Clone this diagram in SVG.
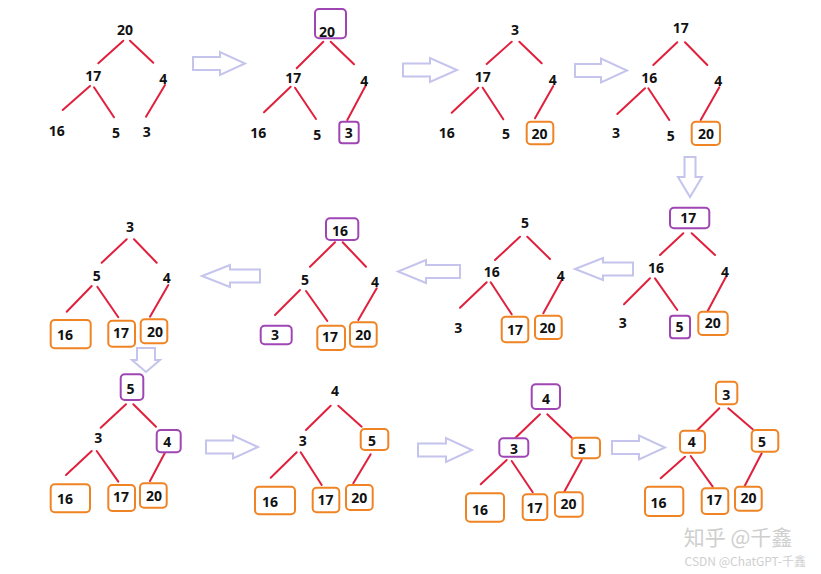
<svg xmlns="http://www.w3.org/2000/svg" width="821" height="574" viewBox="0 0 821 574">
<style>
.e{stroke:#e0203c;stroke-width:2;fill:none;stroke-linecap:round}
.t{font-family:"Open Sans","Noto Sans","DejaVu Sans",sans-serif;font-weight:bold;font-size:14px;fill:#111;text-anchor:middle}
.bp{fill:#fff;stroke:#a046b4;stroke-width:2}
.bo{fill:#fff;stroke:#f08424;stroke-width:2}
.arr{fill:#fff;stroke:#c4c4ec;stroke-width:2;stroke-linejoin:miter}
.wm{font-family:"Noto Sans CJK SC","Liberation Sans",sans-serif;fill:#cfcfcf}
</style>
<rect width="821" height="574" fill="#fff"/>
<g id="connectors">
<line class="e" x1="123.3" y1="40.7" x2="98.3" y2="63.3"/><line class="e" x1="130" y1="40.7" x2="153.3" y2="62.7"/><line class="e" x1="90" y1="86" x2="62.7" y2="110"/><line class="e" x1="94" y1="87.3" x2="114" y2="117.3"/><line class="e" x1="165" y1="85" x2="146" y2="116.7"/>
<line class="e" x1="323.3" y1="41.7" x2="296.7" y2="68.3"/><line class="e" x1="330.7" y1="41.7" x2="354" y2="64.3"/><line class="e" x1="290.7" y1="86.7" x2="264" y2="112.3"/><line class="e" x1="295" y1="87.7" x2="316" y2="119"/><line class="e" x1="366" y1="85" x2="347.3" y2="120"/>
<line class="e" x1="511.7" y1="41.7" x2="486.7" y2="64"/><line class="e" x1="519.3" y1="41.7" x2="541.7" y2="63.3"/><line class="e" x1="478.3" y1="87.7" x2="451.7" y2="112.7"/><line class="e" x1="482.7" y1="87.7" x2="503.3" y2="119.3"/><line class="e" x1="553.3" y1="86" x2="535" y2="118.3"/>
<line class="e" x1="677.3" y1="42.3" x2="653.3" y2="65"/><line class="e" x1="685" y1="42.3" x2="707.3" y2="65"/><line class="e" x1="645" y1="88.3" x2="617.3" y2="114"/><line class="e" x1="648.3" y1="88.3" x2="669.3" y2="120"/><line class="e" x1="719.3" y1="87.3" x2="700.7" y2="120"/>
<line class="e" x1="683.3" y1="233.3" x2="660" y2="255"/><line class="e" x1="691.7" y1="233.3" x2="715" y2="255"/><line class="e" x1="650" y1="278.3" x2="624" y2="304.3"/><line class="e" x1="655" y1="278.3" x2="677.3" y2="310"/><line class="e" x1="726" y1="276.7" x2="707.3" y2="311.7"/>
<line class="e" x1="520" y1="236.7" x2="495" y2="260"/><line class="e" x1="527.3" y1="236.7" x2="550" y2="259"/><line class="e" x1="486.7" y1="282.3" x2="460" y2="307.7"/><line class="e" x1="490.7" y1="282.3" x2="511.7" y2="314.3"/><line class="e" x1="561.7" y1="280" x2="543.3" y2="313.3"/>
<line class="e" x1="335" y1="242.3" x2="310" y2="266.7"/><line class="e" x1="342.7" y1="242.3" x2="366" y2="266.7"/><line class="e" x1="300" y1="290" x2="275" y2="315"/><line class="e" x1="306" y1="291" x2="327.3" y2="321"/><line class="e" x1="376.7" y1="288.3" x2="358.3" y2="320"/>
<line class="e" x1="126.7" y1="239.3" x2="101.7" y2="262.7"/><line class="e" x1="134" y1="239.3" x2="156.7" y2="262.7"/><line class="e" x1="91.7" y1="286" x2="66.7" y2="311.7"/><line class="e" x1="97.3" y1="286.7" x2="118.3" y2="317.3"/><line class="e" x1="168.3" y1="285" x2="150" y2="316.7"/>
<line class="e" x1="126" y1="404.3" x2="100.7" y2="427.7"/><line class="e" x1="133.3" y1="404.3" x2="156" y2="426.7"/><line class="e" x1="91.7" y1="451" x2="66" y2="475"/><line class="e" x1="96.7" y1="451" x2="118.3" y2="481.7"/><line class="e" x1="167.3" y1="448.3" x2="150" y2="481"/>
<line class="e" x1="330.7" y1="405.7" x2="306" y2="430"/><line class="e" x1="338.3" y1="405.7" x2="361.7" y2="426.7"/><line class="e" x1="296.7" y1="452.3" x2="270.7" y2="477.7"/><line class="e" x1="300.7" y1="452.3" x2="321.7" y2="485"/><line class="e" x1="370.7" y1="454.3" x2="353.3" y2="483.3"/>
<line class="e" x1="540" y1="414.3" x2="515" y2="438.3"/><line class="e" x1="547.3" y1="414.3" x2="571.7" y2="437.7"/><line class="e" x1="506.7" y1="460" x2="480.7" y2="484.3"/><line class="e" x1="511.7" y1="461" x2="532.7" y2="492.3"/><line class="e" x1="581.7" y1="460" x2="564" y2="492.3"/>
<line class="e" x1="719.3" y1="408.3" x2="696.7" y2="430.7"/><line class="e" x1="728.3" y1="408.3" x2="752.7" y2="429.3"/><line class="e" x1="685" y1="456.7" x2="660.7" y2="478.3"/><line class="e" x1="690.7" y1="456" x2="712.7" y2="486.7"/><line class="e" x1="761.7" y1="453.3" x2="744" y2="487.3"/>
</g>
<g id="steps">
<polygon class="arr" points="193,57 220,57 220,52 245,63.5 220,75 220,70 193,70"/>
<polygon class="arr" points="403,63.5 430,63.5 430,58 457,70 430,82 430,76.5 403,76.5"/>
<polygon class="arr" points="575,64 601,64 601,58.5 627,70.5 601,82.5 601,77 575,77"/>
<polygon class="arr" points="684.5,157 695.5,157 695.5,177 702,177 690,197 678,177 684.5,177"/>
<polygon class="arr" points="633,262.5 603,262.5 603,258 575,269 603,280 603,275.5 633,275.5"/>
<polygon class="arr" points="460,265 426,265 426,260 398,271.5 426,283 426,278 460,278"/>
<polygon class="arr" points="260,269.5 230,269.5 230,265 202,276 230,287 230,282.5 260,282.5"/>
<polygon class="arr" points="137,348 155,348 155,360 160,360 146,372 132,360 137,360"/>
<polygon class="arr" points="206,440.5 233,440.5 233,435.5 258,447 233,458.5 233,453.5 206,453.5"/>
<polygon class="arr" points="418,443.5 446,443.5 446,438 472,450 446,462 446,456.5 418,456.5"/>
<polygon class="arr" points="612,441 639,441 639,435.5 665,447.5 639,459.5 639,454 612,454"/>
</g>
<g id="t1-20"><text class="t" x="125" y="35">20</text></g>
<g id="t1-17"><text class="t" x="93.3" y="81">17</text></g>
<g id="t1-4"><text class="t" x="163.3" y="84.3">4</text></g>
<g id="t1-16"><text class="t" x="56.7" y="135.7">16</text></g>
<g id="t1-5"><text class="t" x="116" y="138.3">5</text></g>
<g id="t1-3"><text class="t" x="146.7" y="136.7">3</text></g>
<g id="t2-20"><rect class="bp" x="315" y="9" width="31" height="29.3" rx="4"/><text class="t" x="327" y="36.7">20</text></g>
<g id="t2-17"><text class="t" x="293.3" y="82.7">17</text></g>
<g id="t2-4"><text class="t" x="364.3" y="86">4</text></g>
<g id="t2-16"><text class="t" x="258.3" y="137.7">16</text></g>
<g id="t2-5"><text class="t" x="317.3" y="140">5</text></g>
<g id="t2-3"><rect class="bp" x="339.3" y="121.7" width="19.4" height="21.6" rx="3"/><text class="t" x="348.7" y="137.7">3</text></g>
<g id="t3-3"><text class="t" x="515" y="35">3</text></g>
<g id="t3-17"><text class="t" x="482.7" y="81.7">17</text></g>
<g id="t3-4"><text class="t" x="552.7" y="85">4</text></g>
<g id="t3-16"><text class="t" x="446.7" y="137.7">16</text></g>
<g id="t3-5"><text class="t" x="506" y="139.3">5</text></g>
<g id="t3-20"><rect class="bo" x="526.7" y="121.7" width="26.6" height="22.6" rx="4"/><text class="t" x="539.5" y="139">20</text></g>
<g id="t4-17"><text class="t" x="680.7" y="33.3">17</text></g>
<g id="t4-16"><text class="t" x="649.3" y="83.3">16</text></g>
<g id="t4-4"><text class="t" x="718.3" y="85.7">4</text></g>
<g id="t4-3"><text class="t" x="616" y="138.3">3</text></g>
<g id="t4-5"><text class="t" x="670.7" y="141">5</text></g>
<g id="t4-20"><rect class="bo" x="691.7" y="121.7" width="28.3" height="23.3" rx="4"/><text class="t" x="706" y="139">20</text></g>
<g id="t5-17"><rect class="bp" x="670" y="207.7" width="39.3" height="20.6" rx="4"/><text class="t" x="688.3" y="223.3">17</text></g>
<g id="t5-16"><text class="t" x="656" y="272.7">16</text></g>
<g id="t5-4"><text class="t" x="725" y="276.7">4</text></g>
<g id="t5-3"><text class="t" x="622.7" y="328.3">3</text></g>
<g id="t5-5"><rect class="bp" x="670" y="315.7" width="20" height="22.6" rx="3"/><text class="t" x="679.5" y="331.7">5</text></g>
<g id="t5-20"><rect class="bo" x="698.3" y="311.7" width="29.4" height="23.3" rx="4"/><text class="t" x="712.7" y="328.3">20</text></g>
<g id="t6-5"><text class="t" x="525" y="228.3">5</text></g>
<g id="t6-16"><text class="t" x="491.7" y="277.3">16</text></g>
<g id="t6-4"><text class="t" x="560.7" y="280.7">4</text></g>
<g id="t6-3"><text class="t" x="458.3" y="333.3">3</text></g>
<g id="t6-17"><rect class="bo" x="501.7" y="316.7" width="26.6" height="25.6" rx="4"/><text class="t" x="515" y="335">17</text></g>
<g id="t6-20"><rect class="bo" x="535" y="315.7" width="26.7" height="23.3" rx="4"/><text class="t" x="547.5" y="333.3">20</text></g>
<g id="t7-16"><rect class="bp" x="326" y="218.3" width="32.3" height="21.7" rx="4"/><text class="t" x="340" y="236">16</text></g>
<g id="t7-5"><text class="t" x="305" y="285">5</text></g>
<g id="t7-4"><text class="t" x="375" y="287.3">4</text></g>
<g id="t7-3"><rect class="bp" x="260.7" y="325.7" width="31" height="18.6" rx="4"/><text class="t" x="275" y="340">3</text></g>
<g id="t7-17"><rect class="bo" x="317.3" y="325.7" width="27.7" height="24.3" rx="4"/><text class="t" x="330" y="342.3">17</text></g>
<g id="t7-20"><rect class="bo" x="350" y="322.3" width="26.7" height="24.4" rx="4"/><text class="t" x="363.3" y="340">20</text></g>
<g id="t8-3"><text class="t" x="130" y="231.7">3</text></g>
<g id="t8-5"><text class="t" x="96.7" y="281">5</text></g>
<g id="t8-4"><text class="t" x="166.7" y="283.3">4</text></g>
<g id="t8-16"><rect class="bo" x="50.7" y="320" width="40" height="28.3" rx="4"/><text class="t" x="65" y="340">16</text></g>
<g id="t8-17"><rect class="bo" x="108.3" y="320.7" width="26.7" height="26" rx="4"/><text class="t" x="121" y="338.3">17</text></g>
<g id="t8-20"><rect class="bo" x="140.7" y="319.3" width="26.6" height="24" rx="4"/><text class="t" x="155" y="336.7">20</text></g>
<g id="t9-5"><rect class="bp" x="120.7" y="374.3" width="22.6" height="25.7" rx="4"/><text class="t" x="130.5" y="394">5</text></g>
<g id="t9-3"><text class="t" x="98.3" y="443.3">3</text></g>
<g id="t9-4"><rect class="bp" x="156.7" y="430" width="24" height="22.3" rx="4"/><text class="t" x="167.3" y="447.3">4</text></g>
<g id="t9-16"><rect class="bo" x="50.7" y="484.3" width="39.3" height="28" rx="4"/><text class="t" x="65" y="504">16</text></g>
<g id="t9-17"><rect class="bo" x="108.3" y="485" width="26.7" height="26" rx="4"/><text class="t" x="121" y="502.3">17</text></g>
<g id="t9-20"><rect class="bo" x="140" y="483.3" width="26.7" height="24.4" rx="4"/><text class="t" x="154" y="500.7">20</text></g>
<g id="t10-4"><text class="t" x="335" y="396">4</text></g>
<g id="t10-3"><text class="t" x="302.7" y="446">3</text></g>
<g id="t10-5"><rect class="bo" x="360.7" y="429" width="27.6" height="21" rx="4"/><text class="t" x="372" y="446">5</text></g>
<g id="t10-16"><rect class="bo" x="255" y="486.7" width="40" height="27.6" rx="4"/><text class="t" x="270" y="507.3">16</text></g>
<g id="t10-17"><rect class="bo" x="312.7" y="487.7" width="26.6" height="24.6" rx="4"/><text class="t" x="325.5" y="505">17</text></g>
<g id="t10-20"><rect class="bo" x="346" y="485" width="26.7" height="25" rx="4"/><text class="t" x="359.3" y="502.7">20</text></g>
<g id="t11-4"><rect class="bp" x="531.7" y="384.3" width="28.3" height="24.7" rx="4"/><text class="t" x="546" y="404">4</text></g>
<g id="t11-3"><rect class="bp" x="499.3" y="438.3" width="29" height="18.4" rx="4"/><text class="t" x="514" y="454">3</text></g>
<g id="t11-5"><rect class="bo" x="571.7" y="437.7" width="28.3" height="20.6" rx="4"/><text class="t" x="582" y="454">5</text></g>
<g id="t11-16"><rect class="bo" x="466" y="493.3" width="38" height="28.4" rx="4"/><text class="t" x="480" y="515">16</text></g>
<g id="t11-17"><rect class="bo" x="522.7" y="494.3" width="24.6" height="25.7" rx="4"/><text class="t" x="534.5" y="512.7">17</text></g>
<g id="t11-20"><rect class="bo" x="555" y="492.3" width="27.7" height="24.4" rx="4"/><text class="t" x="568.5" y="509.3">20</text></g>
<g id="t12-3"><rect class="bo" x="716" y="381.7" width="21.3" height="22.6" rx="4"/><text class="t" x="726.3" y="400">3</text></g>
<g id="t12-4"><rect class="bo" x="680" y="430.7" width="25" height="22" rx="4"/><text class="t" x="691.7" y="446.7">4</text></g>
<g id="t12-5"><rect class="bo" x="751.7" y="430" width="26.6" height="21.7" rx="4"/><text class="t" x="762" y="446.7">5</text></g>
<g id="t12-16"><rect class="bo" x="645" y="486.7" width="38.3" height="29.3" rx="4"/><text class="t" x="658.5" y="508.3">16</text></g>
<g id="t12-17"><rect class="bo" x="701.7" y="488.3" width="26.6" height="25.7" rx="4"/><text class="t" x="714" y="505">17</text></g>
<g id="t12-20"><rect class="bo" x="735" y="486.7" width="26.7" height="24" rx="4"/><text class="t" x="748.5" y="503.3">20</text></g>
<g id="watermark">
<text class="wm" x="738" y="545" font-size="21" text-anchor="middle">知乎 @千鑫</text>
<text class="wm" x="806" y="566" font-size="12" text-anchor="end">CSDN @ChatGPT-千鑫</text>
</g>
</svg>
